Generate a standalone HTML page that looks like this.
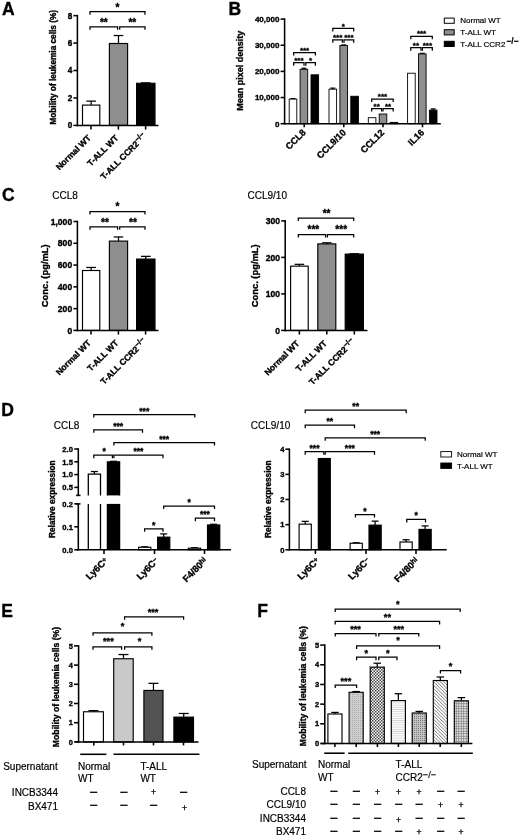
<!DOCTYPE html>
<html lang="en">
<head>
<meta charset="utf-8">
<title>Figure</title>
<style>
html,body{margin:0;padding:0;background:#fff;}
body{width:520px;height:836px;overflow:hidden;}
svg{display:block;filter:blur(0.3px);font-family:"Liberation Sans",sans-serif;fill:#000;}
text{stroke:#000;stroke-width:0.18px;}
text[font-weight="bold"]{stroke:#000;stroke-width:0.35px;}
</style>
</head>
<body>
<svg width="520" height="836" viewBox="0 0 520 836">
<defs>
<pattern id="pdot" width="2" height="2" patternUnits="userSpaceOnUse"><rect width="2" height="2" fill="#cfcfcf"/><rect width="1" height="1" fill="#a8a8a8"/></pattern>
<pattern id="pdot2" width="2" height="2" patternUnits="userSpaceOnUse"><rect width="2" height="2" fill="#c2c2c2"/><rect width="1" height="1" fill="#7c7c7c"/></pattern>
<pattern id="pcross" width="3" height="3" patternUnits="userSpaceOnUse"><rect width="3" height="3" fill="#fff"/><rect x="0" y="0" width="1.5" height="1.5" fill="#444"/><rect x="1.5" y="1.5" width="1.5" height="1.5" fill="#444"/></pattern>
<pattern id="phl" width="2.2" height="2.2" patternUnits="userSpaceOnUse"><rect width="2.2" height="2.2" fill="#fff"/><path d="M0 1.1H2.2" stroke="#d2d2d2" stroke-width="0.9"/></pattern>
<pattern id="pdiag" width="3.4" height="3.4" patternUnits="userSpaceOnUse"><rect width="3.4" height="3.4" fill="#fff"/><path d="M-1 -1L4.4 4.4M-1 2.4L1 4.4M2.4 -1L4.4 1" stroke="#555" stroke-width="0.8"/></pattern>
<pattern id="pgrid" width="2.5" height="2.5" patternUnits="userSpaceOnUse"><rect width="2.5" height="2.5" fill="#e4e4e4"/><path d="M0 1.25H2.5M1.25 0V2.5" stroke="#7a7a7a" stroke-width="0.7"/></pattern>
</defs>
<rect width="520" height="836" fill="#fff"/>
<text x="2.00" y="15.00" font-size="17.5" font-weight="bold" text-anchor="start">A</text>
<line x1="77.40" y1="14.87" x2="77.40" y2="126.18" stroke="#000" stroke-width="1.55"/>
<line x1="73.40" y1="125.40" x2="77.40" y2="125.40" stroke="#000" stroke-width="1.55"/>
<text x="72.20" y="128.35" font-size="8.2" font-weight="bold" text-anchor="end">0</text>
<line x1="73.40" y1="97.96" x2="77.40" y2="97.96" stroke="#000" stroke-width="1.55"/>
<text x="72.20" y="100.91" font-size="8.2" font-weight="bold" text-anchor="end">2</text>
<line x1="73.40" y1="70.52" x2="77.40" y2="70.52" stroke="#000" stroke-width="1.55"/>
<text x="72.20" y="73.47" font-size="8.2" font-weight="bold" text-anchor="end">4</text>
<line x1="73.40" y1="43.08" x2="77.40" y2="43.08" stroke="#000" stroke-width="1.55"/>
<text x="72.20" y="46.03" font-size="8.2" font-weight="bold" text-anchor="end">6</text>
<line x1="73.40" y1="15.64" x2="77.40" y2="15.64" stroke="#000" stroke-width="1.55"/>
<text x="72.20" y="18.59" font-size="8.2" font-weight="bold" text-anchor="end">8</text>
<text transform="translate(56.30,67.30) rotate(-90)" font-size="8.25" font-weight="bold" text-anchor="middle">Mobility of leukemia cells (%)</text>
<line x1="91.15" y1="101.12" x2="91.15" y2="105.09" stroke="#000" stroke-width="1.25"/>
<line x1="86.35" y1="101.12" x2="95.95" y2="101.12" stroke="#000" stroke-width="1.25"/>
<rect x="82.50" y="105.09" width="17.30" height="20.31" fill="#fff" stroke="#000" stroke-width="1.15"/>
<line x1="118.50" y1="35.53" x2="118.50" y2="43.49" stroke="#000" stroke-width="1.25"/>
<line x1="113.70" y1="35.53" x2="123.30" y2="35.53" stroke="#000" stroke-width="1.25"/>
<rect x="109.40" y="43.49" width="18.20" height="81.91" fill="#8e8e8e" stroke="#000" stroke-width="1.15"/>
<line x1="145.80" y1="82.87" x2="145.80" y2="83.28" stroke="#000" stroke-width="1.25"/>
<line x1="141.00" y1="82.87" x2="150.60" y2="82.87" stroke="#000" stroke-width="1.25"/>
<rect x="136.60" y="83.28" width="18.40" height="42.12" fill="#000" stroke="#000" stroke-width="1.15"/>
<line x1="76.70" y1="125.40" x2="158.50" y2="125.40" stroke="#000" stroke-width="1.55"/>
<line x1="91.00" y1="125.40" x2="91.00" y2="129.60" stroke="#000" stroke-width="1.55"/>
<line x1="118.40" y1="125.40" x2="118.40" y2="129.60" stroke="#000" stroke-width="1.55"/>
<line x1="145.60" y1="125.40" x2="145.60" y2="129.60" stroke="#000" stroke-width="1.55"/>
<path d="M90.00 14.70V11.70H145.00V14.70" fill="none" stroke="#000" stroke-width="1.25"/>
<text x="117.50" y="11.20" font-size="10" font-weight="bold" text-anchor="middle">*</text>
<path d="M90.00 29.80V26.80H117.60V29.80" fill="none" stroke="#000" stroke-width="1.25"/>
<text x="103.80" y="26.30" font-size="10" font-weight="bold" text-anchor="middle">**</text>
<path d="M119.70 29.80V26.80H145.00V29.80" fill="none" stroke="#000" stroke-width="1.25"/>
<text x="132.35" y="26.30" font-size="10" font-weight="bold" text-anchor="middle">**</text>
<text transform="translate(91.50,138.50) rotate(-45)" font-size="8.6" font-weight="bold" text-anchor="end">Normal WT</text>
<text transform="translate(119.00,138.50) rotate(-45)" font-size="8.6" font-weight="bold" text-anchor="end">T-ALL WT</text>
<text transform="translate(147.00,137.00) rotate(-45)" font-size="8.6" font-weight="bold" text-anchor="end">T-ALL CCR2<tspan font-size="7.5" dy="-3">−/−</tspan></text>
<text x="228.60" y="14.50" font-size="17.5" font-weight="bold" text-anchor="start">B</text>
<line x1="284.60" y1="18.33" x2="284.60" y2="124.48" stroke="#000" stroke-width="1.55"/>
<line x1="280.60" y1="123.70" x2="284.60" y2="123.70" stroke="#000" stroke-width="1.55"/>
<text x="279.40" y="126.58" font-size="8" font-weight="bold" text-anchor="end">0</text>
<line x1="280.60" y1="97.55" x2="284.60" y2="97.55" stroke="#000" stroke-width="1.55"/>
<text x="279.40" y="100.43" font-size="8" font-weight="bold" text-anchor="end">10,000</text>
<line x1="280.60" y1="71.40" x2="284.60" y2="71.40" stroke="#000" stroke-width="1.55"/>
<text x="279.40" y="74.28" font-size="8" font-weight="bold" text-anchor="end">20,000</text>
<line x1="280.60" y1="45.25" x2="284.60" y2="45.25" stroke="#000" stroke-width="1.55"/>
<text x="279.40" y="48.13" font-size="8" font-weight="bold" text-anchor="end">30,000</text>
<line x1="280.60" y1="19.10" x2="284.60" y2="19.10" stroke="#000" stroke-width="1.55"/>
<text x="279.40" y="21.98" font-size="8" font-weight="bold" text-anchor="end">40,000</text>
<text transform="translate(242.80,70.80) rotate(-90)" font-size="9" font-weight="bold" text-anchor="middle">Mean pixel density</text>
<line x1="293.00" y1="98.60" x2="293.00" y2="99.12" stroke="#000" stroke-width="1.25"/>
<line x1="290.50" y1="98.60" x2="295.50" y2="98.60" stroke="#000" stroke-width="1.25"/>
<rect x="289.20" y="99.12" width="7.60" height="24.58" fill="#fff" stroke="#000" stroke-width="0.9"/>
<line x1="303.90" y1="68.26" x2="303.90" y2="69.31" stroke="#000" stroke-width="1.25"/>
<line x1="301.40" y1="68.26" x2="306.40" y2="68.26" stroke="#000" stroke-width="1.25"/>
<rect x="300.10" y="69.31" width="7.60" height="54.39" fill="#8e8e8e" stroke="#000" stroke-width="0.9"/>
<rect x="311.00" y="74.80" width="7.60" height="48.90" fill="#000" stroke="#000" stroke-width="0.9"/>
<line x1="332.80" y1="88.14" x2="332.80" y2="89.18" stroke="#000" stroke-width="1.25"/>
<line x1="330.30" y1="88.14" x2="335.30" y2="88.14" stroke="#000" stroke-width="1.25"/>
<rect x="329.00" y="89.18" width="7.60" height="34.52" fill="#fff" stroke="#000" stroke-width="0.9"/>
<line x1="343.70" y1="44.99" x2="343.70" y2="45.51" stroke="#000" stroke-width="1.25"/>
<line x1="341.20" y1="44.99" x2="346.20" y2="44.99" stroke="#000" stroke-width="1.25"/>
<rect x="339.90" y="45.51" width="7.60" height="78.19" fill="#8e8e8e" stroke="#000" stroke-width="0.9"/>
<rect x="350.80" y="96.24" width="7.60" height="27.46" fill="#000" stroke="#000" stroke-width="0.9"/>
<rect x="368.30" y="117.69" width="7.60" height="6.01" fill="#fff" stroke="#000" stroke-width="0.9"/>
<rect x="379.20" y="114.02" width="7.60" height="9.68" fill="#8e8e8e" stroke="#000" stroke-width="0.9"/>
<rect x="390.10" y="122.39" width="7.60" height="1.31" fill="#000" stroke="#000" stroke-width="0.9"/>
<rect x="407.60" y="73.23" width="7.60" height="50.47" fill="#fff" stroke="#000" stroke-width="0.9"/>
<line x1="422.30" y1="53.36" x2="422.30" y2="53.88" stroke="#000" stroke-width="1.25"/>
<line x1="419.80" y1="53.36" x2="424.80" y2="53.36" stroke="#000" stroke-width="1.25"/>
<rect x="418.50" y="53.88" width="7.60" height="69.82" fill="#8e8e8e" stroke="#000" stroke-width="0.9"/>
<line x1="433.20" y1="108.93" x2="433.20" y2="110.10" stroke="#000" stroke-width="1.25"/>
<line x1="430.70" y1="108.93" x2="435.70" y2="108.93" stroke="#000" stroke-width="1.25"/>
<rect x="429.40" y="110.10" width="7.60" height="13.60" fill="#000" stroke="#000" stroke-width="0.9"/>
<line x1="284.10" y1="123.70" x2="440.80" y2="123.70" stroke="#000" stroke-width="1.55"/>
<line x1="304.20" y1="123.70" x2="304.20" y2="127.30" stroke="#000" stroke-width="1.55"/>
<line x1="343.80" y1="123.70" x2="343.80" y2="127.30" stroke="#000" stroke-width="1.55"/>
<line x1="383.00" y1="123.70" x2="383.00" y2="127.30" stroke="#000" stroke-width="1.55"/>
<line x1="422.50" y1="123.70" x2="422.50" y2="127.30" stroke="#000" stroke-width="1.55"/>
<path d="M293.70 55.60V52.60H315.40V55.60" fill="none" stroke="#000" stroke-width="1.25"/>
<text x="304.55" y="52.70" font-size="8" font-weight="bold" text-anchor="middle">***</text>
<path d="M293.70 65.70V62.70H304.00V65.70" fill="none" stroke="#000" stroke-width="1.25"/>
<text x="298.85" y="62.80" font-size="8" font-weight="bold" text-anchor="middle">***</text>
<path d="M305.80 65.70V62.70H315.40V65.70" fill="none" stroke="#000" stroke-width="1.25"/>
<text x="310.60" y="62.80" font-size="8" font-weight="bold" text-anchor="middle">*</text>
<path d="M332.80 31.40V28.40H353.70V31.40" fill="none" stroke="#000" stroke-width="1.25"/>
<text x="343.25" y="28.50" font-size="8" font-weight="bold" text-anchor="middle">*</text>
<path d="M332.80 42.80V39.80H342.40V42.80" fill="none" stroke="#000" stroke-width="1.25"/>
<text x="337.60" y="39.90" font-size="8" font-weight="bold" text-anchor="middle">***</text>
<path d="M344.00 42.80V39.80H353.70V42.80" fill="none" stroke="#000" stroke-width="1.25"/>
<text x="348.85" y="39.90" font-size="8" font-weight="bold" text-anchor="middle">***</text>
<path d="M371.70 102.00V99.00H393.20V102.00" fill="none" stroke="#000" stroke-width="1.25"/>
<text x="382.45" y="99.10" font-size="8" font-weight="bold" text-anchor="middle">***</text>
<path d="M371.70 111.50V108.50H381.60V111.50" fill="none" stroke="#000" stroke-width="1.25"/>
<text x="376.65" y="108.60" font-size="8" font-weight="bold" text-anchor="middle">**</text>
<path d="M383.00 111.50V108.50H393.20V111.50" fill="none" stroke="#000" stroke-width="1.25"/>
<text x="388.10" y="108.60" font-size="8" font-weight="bold" text-anchor="middle">**</text>
<path d="M410.80 39.30V36.30H432.30V39.30" fill="none" stroke="#000" stroke-width="1.25"/>
<text x="421.55" y="36.40" font-size="8" font-weight="bold" text-anchor="middle">***</text>
<path d="M410.80 50.70V47.70H421.00V50.70" fill="none" stroke="#000" stroke-width="1.25"/>
<text x="415.90" y="47.80" font-size="8" font-weight="bold" text-anchor="middle">**</text>
<path d="M422.40 50.70V47.70H432.30V50.70" fill="none" stroke="#000" stroke-width="1.25"/>
<text x="427.35" y="47.80" font-size="8" font-weight="bold" text-anchor="middle">***</text>
<text transform="translate(306.30,133.20) rotate(-45)" font-size="9.2" font-weight="bold" text-anchor="end">CCL8</text>
<text transform="translate(346.50,133.20) rotate(-45)" font-size="9.2" font-weight="bold" text-anchor="end">CCL9/10</text>
<text transform="translate(384.80,133.20) rotate(-45)" font-size="9.2" font-weight="bold" text-anchor="end">CCL12</text>
<text transform="translate(424.80,133.20) rotate(-45)" font-size="9.2" font-weight="bold" text-anchor="end">IL16</text>
<rect x="444.30" y="18.10" width="9.90" height="5.20" fill="#fff" stroke="#000" stroke-width="1.0"/>
<rect x="444.30" y="29.70" width="9.90" height="5.20" fill="#8e8e8e" stroke="#000" stroke-width="1.0"/>
<rect x="444.30" y="41.30" width="9.90" height="5.20" fill="#000" stroke="#000" stroke-width="1.0"/>
<text x="460.30" y="23.30" font-size="8.0" text-anchor="start">Normal WT</text>
<text x="460.30" y="34.90" font-size="8.0" text-anchor="start">T-ALL WT</text>
<text x="460.30" y="46.60" font-size="8.0" text-anchor="start">T-ALL CCR2<tspan font-size="8.6" font-weight="bold" dy="-2.6" dx="0.8">−/−</tspan></text>
<text x="2.00" y="201.00" font-size="17.5" font-weight="bold" text-anchor="start">C</text>
<text x="52.30" y="199.20" font-size="10" text-anchor="start">CCL8</text>
<line x1="77.40" y1="220.72" x2="77.40" y2="331.17" stroke="#000" stroke-width="1.55"/>
<line x1="73.40" y1="330.40" x2="77.40" y2="330.40" stroke="#000" stroke-width="1.55"/>
<text x="72.20" y="333.50" font-size="8.6" font-weight="bold" text-anchor="end">0</text>
<line x1="73.40" y1="308.62" x2="77.40" y2="308.62" stroke="#000" stroke-width="1.55"/>
<text x="72.20" y="311.72" font-size="8.6" font-weight="bold" text-anchor="end">200</text>
<line x1="73.40" y1="286.84" x2="77.40" y2="286.84" stroke="#000" stroke-width="1.55"/>
<text x="72.20" y="289.94" font-size="8.6" font-weight="bold" text-anchor="end">400</text>
<line x1="73.40" y1="265.06" x2="77.40" y2="265.06" stroke="#000" stroke-width="1.55"/>
<text x="72.20" y="268.16" font-size="8.6" font-weight="bold" text-anchor="end">600</text>
<line x1="73.40" y1="243.28" x2="77.40" y2="243.28" stroke="#000" stroke-width="1.55"/>
<text x="72.20" y="246.38" font-size="8.6" font-weight="bold" text-anchor="end">800</text>
<line x1="73.40" y1="221.50" x2="77.40" y2="221.50" stroke="#000" stroke-width="1.55"/>
<text x="72.20" y="224.60" font-size="8.6" font-weight="bold" text-anchor="end">1,000</text>
<text transform="translate(47.90,275.80) rotate(-90)" font-size="9.4" font-weight="bold" text-anchor="middle">Conc. (pg/mL)</text>
<line x1="91.15" y1="267.46" x2="91.15" y2="270.50" stroke="#000" stroke-width="1.25"/>
<line x1="86.35" y1="267.46" x2="95.95" y2="267.46" stroke="#000" stroke-width="1.25"/>
<rect x="82.50" y="270.50" width="17.30" height="59.89" fill="#fff" stroke="#000" stroke-width="1.15"/>
<line x1="118.50" y1="236.96" x2="118.50" y2="241.10" stroke="#000" stroke-width="1.25"/>
<line x1="113.70" y1="236.96" x2="123.30" y2="236.96" stroke="#000" stroke-width="1.25"/>
<rect x="109.40" y="241.10" width="18.20" height="89.30" fill="#8e8e8e" stroke="#000" stroke-width="1.15"/>
<line x1="145.80" y1="256.35" x2="145.80" y2="259.07" stroke="#000" stroke-width="1.25"/>
<line x1="141.00" y1="256.35" x2="150.60" y2="256.35" stroke="#000" stroke-width="1.25"/>
<rect x="136.60" y="259.07" width="18.40" height="71.33" fill="#000" stroke="#000" stroke-width="1.15"/>
<line x1="76.70" y1="330.40" x2="158.50" y2="330.40" stroke="#000" stroke-width="1.55"/>
<line x1="91.00" y1="330.40" x2="91.00" y2="334.60" stroke="#000" stroke-width="1.55"/>
<line x1="118.40" y1="330.40" x2="118.40" y2="334.60" stroke="#000" stroke-width="1.55"/>
<line x1="145.60" y1="330.40" x2="145.60" y2="334.60" stroke="#000" stroke-width="1.55"/>
<path d="M90.00 214.50V211.50H145.00V214.50" fill="none" stroke="#000" stroke-width="1.25"/>
<text x="117.50" y="210.20" font-size="10" font-weight="bold" text-anchor="middle">*</text>
<path d="M90.00 229.80V226.80H117.60V229.80" fill="none" stroke="#000" stroke-width="1.25"/>
<text x="105.00" y="225.50" font-size="10" font-weight="bold" text-anchor="middle">**</text>
<path d="M119.70 229.80V226.80H145.00V229.80" fill="none" stroke="#000" stroke-width="1.25"/>
<text x="133.00" y="225.50" font-size="10" font-weight="bold" text-anchor="middle">**</text>
<text transform="translate(91.50,343.60) rotate(-45)" font-size="8.6" font-weight="bold" text-anchor="end">Normal WT</text>
<text transform="translate(119.00,343.60) rotate(-45)" font-size="8.6" font-weight="bold" text-anchor="end">T-ALL WT</text>
<text transform="translate(147.00,342.10) rotate(-45)" font-size="8.6" font-weight="bold" text-anchor="end">T-ALL CCR2<tspan font-size="7.5" dy="-3">−/−</tspan></text>
<text x="247.50" y="199.20" font-size="10" text-anchor="start">CCL9/10</text>
<line x1="285.20" y1="220.12" x2="285.20" y2="331.17" stroke="#000" stroke-width="1.55"/>
<line x1="281.20" y1="330.40" x2="285.20" y2="330.40" stroke="#000" stroke-width="1.55"/>
<text x="280.00" y="333.50" font-size="8.6" font-weight="bold" text-anchor="end">0</text>
<line x1="281.20" y1="293.90" x2="285.20" y2="293.90" stroke="#000" stroke-width="1.55"/>
<text x="280.00" y="297.00" font-size="8.6" font-weight="bold" text-anchor="end">100</text>
<line x1="281.20" y1="257.40" x2="285.20" y2="257.40" stroke="#000" stroke-width="1.55"/>
<text x="280.00" y="260.50" font-size="8.6" font-weight="bold" text-anchor="end">200</text>
<line x1="281.20" y1="220.90" x2="285.20" y2="220.90" stroke="#000" stroke-width="1.55"/>
<text x="280.00" y="224.00" font-size="8.6" font-weight="bold" text-anchor="end">300</text>
<text transform="translate(258.00,275.80) rotate(-90)" font-size="9.4" font-weight="bold" text-anchor="middle">Conc. (pg/mL)</text>
<line x1="299.40" y1="264.33" x2="299.40" y2="266.16" stroke="#000" stroke-width="1.25"/>
<line x1="294.60" y1="264.33" x2="304.20" y2="264.33" stroke="#000" stroke-width="1.25"/>
<rect x="290.60" y="266.16" width="17.60" height="64.24" fill="#fff" stroke="#000" stroke-width="1.15"/>
<line x1="326.80" y1="242.80" x2="326.80" y2="243.89" stroke="#000" stroke-width="1.25"/>
<line x1="322.00" y1="242.80" x2="331.60" y2="242.80" stroke="#000" stroke-width="1.25"/>
<rect x="317.80" y="243.89" width="18.00" height="86.50" fill="#8e8e8e" stroke="#000" stroke-width="1.15"/>
<line x1="354.30" y1="253.75" x2="354.30" y2="254.11" stroke="#000" stroke-width="1.25"/>
<line x1="349.50" y1="253.75" x2="359.10" y2="253.75" stroke="#000" stroke-width="1.25"/>
<rect x="345.20" y="254.11" width="18.20" height="76.28" fill="#000" stroke="#000" stroke-width="1.15"/>
<line x1="284.50" y1="330.40" x2="367.50" y2="330.40" stroke="#000" stroke-width="1.55"/>
<line x1="299.40" y1="330.40" x2="299.40" y2="334.60" stroke="#000" stroke-width="1.55"/>
<line x1="326.80" y1="330.40" x2="326.80" y2="334.60" stroke="#000" stroke-width="1.55"/>
<line x1="354.30" y1="330.40" x2="354.30" y2="334.60" stroke="#000" stroke-width="1.55"/>
<path d="M298.30 221.00V218.00H353.70V221.00" fill="none" stroke="#000" stroke-width="1.25"/>
<text x="326.60" y="216.70" font-size="10" font-weight="bold" text-anchor="middle">**</text>
<path d="M298.30 237.50V234.50H325.60V237.50" fill="none" stroke="#000" stroke-width="1.25"/>
<text x="313.40" y="233.20" font-size="10" font-weight="bold" text-anchor="middle">***</text>
<path d="M327.40 237.50V234.50H353.70V237.50" fill="none" stroke="#000" stroke-width="1.25"/>
<text x="341.20" y="233.20" font-size="10" font-weight="bold" text-anchor="middle">***</text>
<text transform="translate(300.00,344.00) rotate(-45)" font-size="8.6" font-weight="bold" text-anchor="end">Normal WT</text>
<text transform="translate(327.50,344.00) rotate(-45)" font-size="8.6" font-weight="bold" text-anchor="end">T-ALL WT</text>
<text transform="translate(355.50,342.50) rotate(-45)" font-size="8.6" font-weight="bold" text-anchor="end">T-ALL CCR2<tspan font-size="7.5" dy="-3">−/−</tspan></text>
<text x="1.30" y="415.60" font-size="17.5" font-weight="bold" text-anchor="start">D</text>
<text x="53.80" y="429.30" font-size="10" text-anchor="start">CCL8</text>
<line x1="78.30" y1="448.23" x2="78.30" y2="495.40" stroke="#000" stroke-width="1.55"/>
<line x1="74.30" y1="487.40" x2="78.30" y2="487.40" stroke="#000" stroke-width="1.55"/>
<text x="72.90" y="490.14" font-size="7.6" font-weight="bold" text-anchor="end">0.5</text>
<line x1="74.30" y1="474.60" x2="78.30" y2="474.60" stroke="#000" stroke-width="1.55"/>
<text x="72.90" y="477.34" font-size="7.6" font-weight="bold" text-anchor="end">1.0</text>
<line x1="74.30" y1="461.80" x2="78.30" y2="461.80" stroke="#000" stroke-width="1.55"/>
<text x="72.90" y="464.54" font-size="7.6" font-weight="bold" text-anchor="end">1.5</text>
<line x1="74.30" y1="449.00" x2="78.30" y2="449.00" stroke="#000" stroke-width="1.55"/>
<text x="72.90" y="451.74" font-size="7.6" font-weight="bold" text-anchor="end">2.0</text>
<line x1="76.10" y1="495.40" x2="80.50" y2="495.40" stroke="#000" stroke-width="1.55"/>
<line x1="76.10" y1="503.90" x2="80.50" y2="503.90" stroke="#000" stroke-width="1.55"/>
<line x1="78.30" y1="503.90" x2="78.30" y2="550.57" stroke="#000" stroke-width="1.55"/>
<line x1="74.30" y1="549.80" x2="78.30" y2="549.80" stroke="#000" stroke-width="1.55"/>
<text x="72.90" y="552.54" font-size="7.6" font-weight="bold" text-anchor="end">0.0</text>
<line x1="74.30" y1="526.80" x2="78.30" y2="526.80" stroke="#000" stroke-width="1.55"/>
<text x="72.90" y="529.54" font-size="7.6" font-weight="bold" text-anchor="end">0.1</text>
<line x1="74.30" y1="503.80" x2="78.30" y2="503.80" stroke="#000" stroke-width="1.55"/>
<text x="72.90" y="506.54" font-size="7.6" font-weight="bold" text-anchor="end">0.2</text>
<text transform="translate(55.00,499.20) rotate(-90)" font-size="8.25" font-weight="bold" text-anchor="middle">Relative expression</text>
<line x1="94.40" y1="471.53" x2="94.40" y2="474.09" stroke="#000" stroke-width="1.25"/>
<line x1="90.90" y1="471.53" x2="97.90" y2="471.53" stroke="#000" stroke-width="1.25"/>
<rect x="88.30" y="474.09" width="12.20" height="21.31" fill="#fff"/>
<rect x="88.30" y="503.90" width="12.20" height="45.90" fill="#fff"/>
<path d="M88.30 495.40V474.09H100.50V495.40M88.30 503.90V549.8M100.50 503.90V549.8" fill="none" stroke="#000" stroke-width="1.3"/>
<line x1="113.50" y1="461.29" x2="113.50" y2="461.80" stroke="#000" stroke-width="1.25"/>
<line x1="110.00" y1="461.29" x2="117.00" y2="461.29" stroke="#000" stroke-width="1.25"/>
<rect x="107.40" y="461.80" width="12.20" height="33.60" fill="#000"/>
<rect x="107.40" y="503.90" width="12.20" height="45.90" fill="#000"/>
<path d="M107.40 495.40V461.80H119.60V495.40M107.40 503.90V549.8M119.60 503.90V549.8" fill="none" stroke="#000" stroke-width="1.3"/>
<line x1="144.70" y1="546.81" x2="144.70" y2="547.27" stroke="#000" stroke-width="1.25"/>
<line x1="141.20" y1="546.81" x2="148.20" y2="546.81" stroke="#000" stroke-width="1.25"/>
<rect x="138.60" y="547.27" width="12.20" height="2.53" fill="#fff" stroke="#000" stroke-width="1.15"/>
<line x1="163.70" y1="533.93" x2="163.70" y2="537.15" stroke="#000" stroke-width="1.25"/>
<line x1="160.20" y1="533.93" x2="167.20" y2="533.93" stroke="#000" stroke-width="1.25"/>
<rect x="157.60" y="537.15" width="12.20" height="12.65" fill="#000" stroke="#000" stroke-width="1.15"/>
<line x1="194.55" y1="547.73" x2="194.55" y2="548.19" stroke="#000" stroke-width="1.25"/>
<line x1="191.05" y1="547.73" x2="198.05" y2="547.73" stroke="#000" stroke-width="1.25"/>
<rect x="188.40" y="548.19" width="12.30" height="1.61" fill="#fff" stroke="#000" stroke-width="1.15"/>
<line x1="213.65" y1="524.27" x2="213.65" y2="524.96" stroke="#000" stroke-width="1.25"/>
<line x1="210.15" y1="524.27" x2="217.15" y2="524.27" stroke="#000" stroke-width="1.25"/>
<rect x="207.50" y="524.96" width="12.30" height="24.84" fill="#000" stroke="#000" stroke-width="1.15"/>
<line x1="77.60" y1="549.80" x2="231.00" y2="549.80" stroke="#000" stroke-width="1.55"/>
<line x1="104.00" y1="549.80" x2="104.00" y2="554.00" stroke="#000" stroke-width="1.55"/>
<line x1="154.50" y1="549.80" x2="154.50" y2="554.00" stroke="#000" stroke-width="1.55"/>
<line x1="204.50" y1="549.80" x2="204.50" y2="554.00" stroke="#000" stroke-width="1.55"/>
<path d="M93.80 417.50V414.50H194.80V417.50" fill="none" stroke="#000" stroke-width="1.25"/>
<text x="144.30" y="413.50" font-size="8.6" font-weight="bold" text-anchor="middle">***</text>
<path d="M93.80 432.80V429.80H142.50V432.80" fill="none" stroke="#000" stroke-width="1.25"/>
<text x="118.15" y="428.80" font-size="8.6" font-weight="bold" text-anchor="middle">***</text>
<path d="M113.90 445.60V442.60H214.50V445.60" fill="none" stroke="#000" stroke-width="1.25"/>
<text x="164.20" y="441.60" font-size="8.6" font-weight="bold" text-anchor="middle">***</text>
<path d="M93.80 458.20V455.20H112.40V458.20" fill="none" stroke="#000" stroke-width="1.25"/>
<text x="104.20" y="454.20" font-size="8.6" font-weight="bold" text-anchor="middle">*</text>
<path d="M113.90 458.20V455.20H163.00V458.20" fill="none" stroke="#000" stroke-width="1.25"/>
<text x="138.45" y="454.20" font-size="8.6" font-weight="bold" text-anchor="middle">***</text>
<path d="M163.70 509.00V506.00H214.50V509.00" fill="none" stroke="#000" stroke-width="1.25"/>
<text x="189.10" y="505.00" font-size="8.6" font-weight="bold" text-anchor="middle">*</text>
<path d="M195.40 521.20V518.20H214.50V521.20" fill="none" stroke="#000" stroke-width="1.25"/>
<text x="204.95" y="517.20" font-size="8.6" font-weight="bold" text-anchor="middle">***</text>
<path d="M144.60 531.80V528.80H163.00V531.80" fill="none" stroke="#000" stroke-width="1.25"/>
<text x="153.80" y="527.80" font-size="8.6" font-weight="bold" text-anchor="middle">*</text>
<text transform="translate(108.60,561.30) rotate(-45)" font-size="9.4" font-weight="bold" text-anchor="end">Ly6C<tspan font-size="7" dy="-2.2">+</tspan></text>
<text transform="translate(159.30,561.30) rotate(-45)" font-size="9.4" font-weight="bold" text-anchor="end">Ly6C<tspan font-size="7" dy="-2.2">−</tspan></text>
<text transform="translate(207.80,561.30) rotate(-45)" font-size="9.4" font-weight="bold" text-anchor="end">F4/80<tspan font-size="7" dy="-2.2">hi</tspan></text>
<text x="250.80" y="428.80" font-size="10" text-anchor="start">CCL9/10</text>
<line x1="289.40" y1="448.42" x2="289.40" y2="550.57" stroke="#000" stroke-width="1.55"/>
<line x1="285.40" y1="549.80" x2="289.40" y2="549.80" stroke="#000" stroke-width="1.55"/>
<text x="284.40" y="552.54" font-size="7.6" font-weight="bold" text-anchor="end">0</text>
<line x1="285.40" y1="524.65" x2="289.40" y2="524.65" stroke="#000" stroke-width="1.55"/>
<text x="284.40" y="527.39" font-size="7.6" font-weight="bold" text-anchor="end">1</text>
<line x1="285.40" y1="499.50" x2="289.40" y2="499.50" stroke="#000" stroke-width="1.55"/>
<text x="284.40" y="502.24" font-size="7.6" font-weight="bold" text-anchor="end">2</text>
<line x1="285.40" y1="474.35" x2="289.40" y2="474.35" stroke="#000" stroke-width="1.55"/>
<text x="284.40" y="477.09" font-size="7.6" font-weight="bold" text-anchor="end">3</text>
<line x1="285.40" y1="449.20" x2="289.40" y2="449.20" stroke="#000" stroke-width="1.55"/>
<text x="284.40" y="451.94" font-size="7.6" font-weight="bold" text-anchor="end">4</text>
<text transform="translate(271.20,499.20) rotate(-90)" font-size="8.25" font-weight="bold" text-anchor="middle">Relative expression</text>
<line x1="305.20" y1="521.38" x2="305.20" y2="524.15" stroke="#000" stroke-width="1.25"/>
<line x1="301.70" y1="521.38" x2="308.70" y2="521.38" stroke="#000" stroke-width="1.25"/>
<rect x="299.10" y="524.15" width="12.20" height="25.65" fill="#fff" stroke="#000" stroke-width="1.15"/>
<rect x="318.30" y="458.51" width="12.00" height="91.29" fill="#000" stroke="#000" stroke-width="1.15"/>
<line x1="356.20" y1="542.76" x2="356.20" y2="543.26" stroke="#000" stroke-width="1.25"/>
<line x1="352.70" y1="542.76" x2="359.70" y2="542.76" stroke="#000" stroke-width="1.25"/>
<rect x="350.10" y="543.26" width="12.20" height="6.54" fill="#fff" stroke="#000" stroke-width="1.15"/>
<line x1="375.10" y1="521.13" x2="375.10" y2="525.15" stroke="#000" stroke-width="1.25"/>
<line x1="371.60" y1="521.13" x2="378.60" y2="521.13" stroke="#000" stroke-width="1.25"/>
<rect x="369.00" y="525.15" width="12.20" height="24.65" fill="#000" stroke="#000" stroke-width="1.15"/>
<line x1="406.10" y1="539.74" x2="406.10" y2="542.00" stroke="#000" stroke-width="1.25"/>
<line x1="402.60" y1="539.74" x2="409.60" y2="539.74" stroke="#000" stroke-width="1.25"/>
<rect x="400.00" y="542.00" width="12.20" height="7.80" fill="#fff" stroke="#000" stroke-width="1.15"/>
<line x1="425.10" y1="525.91" x2="425.10" y2="529.43" stroke="#000" stroke-width="1.25"/>
<line x1="421.60" y1="525.91" x2="428.60" y2="525.91" stroke="#000" stroke-width="1.25"/>
<rect x="419.00" y="529.43" width="12.20" height="20.37" fill="#000" stroke="#000" stroke-width="1.15"/>
<line x1="288.70" y1="549.80" x2="446.70" y2="549.80" stroke="#000" stroke-width="1.55"/>
<line x1="315.40" y1="549.80" x2="315.40" y2="554.00" stroke="#000" stroke-width="1.55"/>
<line x1="366.00" y1="549.80" x2="366.00" y2="554.00" stroke="#000" stroke-width="1.55"/>
<line x1="416.00" y1="549.80" x2="416.00" y2="554.00" stroke="#000" stroke-width="1.55"/>
<path d="M305.20 413.20V410.20H406.20V413.20" fill="none" stroke="#000" stroke-width="1.25"/>
<text x="355.70" y="409.20" font-size="8.6" font-weight="bold" text-anchor="middle">**</text>
<path d="M305.20 428.20V425.20H354.50V428.20" fill="none" stroke="#000" stroke-width="1.25"/>
<text x="329.85" y="424.20" font-size="8.6" font-weight="bold" text-anchor="middle">**</text>
<path d="M325.20 440.80V437.80H425.20V440.80" fill="none" stroke="#000" stroke-width="1.25"/>
<text x="375.20" y="436.80" font-size="8.6" font-weight="bold" text-anchor="middle">***</text>
<path d="M305.20 454.70V451.70H323.80V454.70" fill="none" stroke="#000" stroke-width="1.25"/>
<text x="314.50" y="450.70" font-size="8.6" font-weight="bold" text-anchor="middle">***</text>
<path d="M325.20 454.70V451.70H374.50V454.70" fill="none" stroke="#000" stroke-width="1.25"/>
<text x="349.85" y="450.70" font-size="8.6" font-weight="bold" text-anchor="middle">***</text>
<path d="M355.40 517.50V514.50H374.50V517.50" fill="none" stroke="#000" stroke-width="1.25"/>
<text x="364.95" y="513.50" font-size="8.6" font-weight="bold" text-anchor="middle">*</text>
<path d="M406.80 522.40V519.40H425.50V522.40" fill="none" stroke="#000" stroke-width="1.25"/>
<text x="416.15" y="518.40" font-size="8.6" font-weight="bold" text-anchor="middle">*</text>
<text transform="translate(320.10,561.30) rotate(-45)" font-size="9.4" font-weight="bold" text-anchor="end">Ly6C<tspan font-size="7" dy="-2.2">+</tspan></text>
<text transform="translate(370.80,561.30) rotate(-45)" font-size="9.4" font-weight="bold" text-anchor="end">Ly6C<tspan font-size="7" dy="-2.2">−</tspan></text>
<text transform="translate(419.30,561.30) rotate(-45)" font-size="9.4" font-weight="bold" text-anchor="end">F4/80<tspan font-size="7" dy="-2.2">hi</tspan></text>
<rect x="440.80" y="451.60" width="10.80" height="5.40" fill="#fff" stroke="#000" stroke-width="0.9"/>
<rect x="440.80" y="463.00" width="10.80" height="5.40" fill="#000" stroke="#000" stroke-width="0.9"/>
<text x="457.00" y="457.40" font-size="8" text-anchor="start">Normal WT</text>
<text x="457.00" y="468.80" font-size="8" text-anchor="start">T-ALL WT</text>
<text x="1.30" y="617.40" font-size="17.5" font-weight="bold" text-anchor="start">E</text>
<line x1="78.60" y1="645.12" x2="78.60" y2="742.67" stroke="#000" stroke-width="1.55"/>
<line x1="74.00" y1="741.90" x2="78.60" y2="741.90" stroke="#000" stroke-width="1.55"/>
<text x="72.80" y="744.56" font-size="7.4" font-weight="bold" text-anchor="end">0</text>
<line x1="74.00" y1="722.70" x2="78.60" y2="722.70" stroke="#000" stroke-width="1.55"/>
<text x="72.80" y="725.36" font-size="7.4" font-weight="bold" text-anchor="end">1</text>
<line x1="74.00" y1="703.50" x2="78.60" y2="703.50" stroke="#000" stroke-width="1.55"/>
<text x="72.80" y="706.16" font-size="7.4" font-weight="bold" text-anchor="end">2</text>
<line x1="74.00" y1="684.30" x2="78.60" y2="684.30" stroke="#000" stroke-width="1.55"/>
<text x="72.80" y="686.96" font-size="7.4" font-weight="bold" text-anchor="end">3</text>
<line x1="74.00" y1="665.10" x2="78.60" y2="665.10" stroke="#000" stroke-width="1.55"/>
<text x="72.80" y="667.76" font-size="7.4" font-weight="bold" text-anchor="end">4</text>
<line x1="74.00" y1="645.90" x2="78.60" y2="645.90" stroke="#000" stroke-width="1.55"/>
<text x="72.80" y="648.56" font-size="7.4" font-weight="bold" text-anchor="end">5</text>
<text transform="translate(59.30,687.00) rotate(-90)" font-size="8.67" font-weight="bold" text-anchor="middle">Mobility of leukemia cells (%)</text>
<line x1="93.45" y1="710.60" x2="93.45" y2="711.76" stroke="#000" stroke-width="1.25"/>
<line x1="88.45" y1="710.60" x2="98.45" y2="710.60" stroke="#000" stroke-width="1.25"/>
<rect x="83.50" y="711.76" width="19.90" height="30.14" fill="#fff" stroke="#000" stroke-width="1.15"/>
<line x1="123.45" y1="654.54" x2="123.45" y2="658.76" stroke="#000" stroke-width="1.25"/>
<line x1="118.45" y1="654.54" x2="128.45" y2="654.54" stroke="#000" stroke-width="1.25"/>
<rect x="113.70" y="658.76" width="19.50" height="83.14" fill="#c9c9c9" stroke="#000" stroke-width="1.15"/>
<line x1="153.45" y1="683.34" x2="153.45" y2="690.44" stroke="#000" stroke-width="1.25"/>
<line x1="148.45" y1="683.34" x2="158.45" y2="683.34" stroke="#000" stroke-width="1.25"/>
<rect x="143.90" y="690.44" width="19.10" height="51.46" fill="#525252" stroke="#000" stroke-width="1.15"/>
<line x1="183.70" y1="713.48" x2="183.70" y2="717.13" stroke="#000" stroke-width="1.25"/>
<line x1="178.70" y1="713.48" x2="188.70" y2="713.48" stroke="#000" stroke-width="1.25"/>
<rect x="173.90" y="717.13" width="19.60" height="24.77" fill="#000" stroke="#000" stroke-width="1.15"/>
<line x1="75.50" y1="741.90" x2="198.50" y2="741.90" stroke="#000" stroke-width="1.55"/>
<line x1="93.80" y1="741.90" x2="93.80" y2="745.40" stroke="#000" stroke-width="1.55"/>
<line x1="123.50" y1="741.90" x2="123.50" y2="745.40" stroke="#000" stroke-width="1.55"/>
<line x1="153.50" y1="741.90" x2="153.50" y2="745.40" stroke="#000" stroke-width="1.55"/>
<line x1="183.50" y1="741.90" x2="183.50" y2="745.40" stroke="#000" stroke-width="1.55"/>
<path d="M124.60 619.80V616.80H183.60V619.80" fill="none" stroke="#000" stroke-width="1.25"/>
<text x="153.00" y="614.50" font-size="9.2" font-weight="bold" text-anchor="middle">***</text>
<path d="M93.00 635.80V632.80H151.90V635.80" fill="none" stroke="#000" stroke-width="1.25"/>
<text x="122.45" y="629.20" font-size="9.2" font-weight="bold" text-anchor="middle">*</text>
<path d="M93.00 649.80V646.80H121.60V649.80" fill="none" stroke="#000" stroke-width="1.25"/>
<text x="108.40" y="644.10" font-size="9.2" font-weight="bold" text-anchor="middle">***</text>
<path d="M124.60 649.80V646.80H151.90V649.80" fill="none" stroke="#000" stroke-width="1.25"/>
<text x="139.60" y="643.90" font-size="9.2" font-weight="bold" text-anchor="middle">*</text>
<line x1="80.20" y1="754.30" x2="106.40" y2="754.30" stroke="#000" stroke-width="1.55"/>
<line x1="113.50" y1="754.30" x2="199.40" y2="754.30" stroke="#000" stroke-width="1.55"/>
<text x="3.20" y="769.80" font-size="10" text-anchor="start">Supernatant</text>
<text x="78.00" y="769.80" font-size="10" text-anchor="start">Normal</text>
<text x="78.00" y="781.60" font-size="10" text-anchor="start">WT</text>
<text x="140.40" y="769.80" font-size="10" text-anchor="start">T-ALL</text>
<text x="140.40" y="781.60" font-size="10" text-anchor="start">WT</text>
<text x="58.00" y="796.20" font-size="10" text-anchor="end">INCB3344</text>
<text x="58.00" y="810.20" font-size="10" text-anchor="end">BX471</text>
<text x="93.40" y="797.00" font-size="14.5" text-anchor="middle" style="stroke-width:0.2px">−</text>
<text x="123.80" y="797.00" font-size="14.5" text-anchor="middle" style="stroke-width:0.2px">−</text>
<text x="153.40" y="795.20" font-size="8.6" text-anchor="middle" style="stroke-width:0.3px">+</text>
<text x="183.40" y="797.00" font-size="14.5" text-anchor="middle" style="stroke-width:0.2px">−</text>
<text x="93.40" y="810.40" font-size="14.5" text-anchor="middle" style="stroke-width:0.2px">−</text>
<text x="123.80" y="810.40" font-size="14.5" text-anchor="middle" style="stroke-width:0.2px">−</text>
<text x="153.40" y="810.40" font-size="14.5" text-anchor="middle" style="stroke-width:0.2px">−</text>
<text x="184.40" y="811.40" font-size="8.6" text-anchor="middle" style="stroke-width:0.3px">+</text>
<text x="257.30" y="617.40" font-size="17.5" font-weight="bold" text-anchor="start">F</text>
<line x1="324.80" y1="644.33" x2="324.80" y2="744.27" stroke="#000" stroke-width="1.55"/>
<line x1="320.20" y1="743.50" x2="324.80" y2="743.50" stroke="#000" stroke-width="1.55"/>
<text x="319.00" y="746.16" font-size="7.4" font-weight="bold" text-anchor="end">0</text>
<line x1="320.20" y1="723.82" x2="324.80" y2="723.82" stroke="#000" stroke-width="1.55"/>
<text x="319.00" y="726.48" font-size="7.4" font-weight="bold" text-anchor="end">1</text>
<line x1="320.20" y1="704.14" x2="324.80" y2="704.14" stroke="#000" stroke-width="1.55"/>
<text x="319.00" y="706.80" font-size="7.4" font-weight="bold" text-anchor="end">2</text>
<line x1="320.20" y1="684.46" x2="324.80" y2="684.46" stroke="#000" stroke-width="1.55"/>
<text x="319.00" y="687.12" font-size="7.4" font-weight="bold" text-anchor="end">3</text>
<line x1="320.20" y1="664.78" x2="324.80" y2="664.78" stroke="#000" stroke-width="1.55"/>
<text x="319.00" y="667.44" font-size="7.4" font-weight="bold" text-anchor="end">4</text>
<line x1="320.20" y1="645.10" x2="324.80" y2="645.10" stroke="#000" stroke-width="1.55"/>
<text x="319.00" y="647.76" font-size="7.4" font-weight="bold" text-anchor="end">5</text>
<text transform="translate(306.00,686.20) rotate(-90)" font-size="8.67" font-weight="bold" text-anchor="middle">Mobility of leukemia cells (%)</text>
<line x1="334.95" y1="712.41" x2="334.95" y2="713.98" stroke="#000" stroke-width="1.25"/>
<line x1="331.20" y1="712.41" x2="338.70" y2="712.41" stroke="#000" stroke-width="1.25"/>
<rect x="327.90" y="713.98" width="14.10" height="29.52" fill="#fff"/>
<rect x="327.90" y="713.98" width="14.10" height="29.52" fill="#fff" stroke="#000" stroke-width="1.15"/>
<line x1="356.15" y1="691.54" x2="356.15" y2="692.33" stroke="#000" stroke-width="1.25"/>
<line x1="352.40" y1="691.54" x2="359.90" y2="691.54" stroke="#000" stroke-width="1.25"/>
<rect x="349.10" y="692.33" width="14.10" height="51.17" fill="#fff"/>
<rect x="349.10" y="692.33" width="14.10" height="51.17" fill="url(#pdot)" stroke="#000" stroke-width="1.15"/>
<line x1="377.25" y1="663.21" x2="377.25" y2="667.14" stroke="#000" stroke-width="1.25"/>
<line x1="373.50" y1="663.21" x2="381.00" y2="663.21" stroke="#000" stroke-width="1.25"/>
<rect x="370.20" y="667.14" width="14.10" height="76.36" fill="#fff"/>
<rect x="370.20" y="667.14" width="14.10" height="76.36" fill="url(#pcross)" stroke="#000" stroke-width="1.15"/>
<line x1="398.35" y1="693.71" x2="398.35" y2="700.60" stroke="#000" stroke-width="1.25"/>
<line x1="394.60" y1="693.71" x2="402.10" y2="693.71" stroke="#000" stroke-width="1.25"/>
<rect x="391.30" y="700.60" width="14.10" height="42.90" fill="#fff"/>
<rect x="391.30" y="700.60" width="14.10" height="42.90" fill="url(#phl)" stroke="#000" stroke-width="1.15"/>
<line x1="419.25" y1="711.42" x2="419.25" y2="713.00" stroke="#000" stroke-width="1.25"/>
<line x1="415.50" y1="711.42" x2="423.00" y2="711.42" stroke="#000" stroke-width="1.25"/>
<rect x="412.20" y="713.00" width="14.10" height="30.50" fill="#fff"/>
<rect x="412.20" y="713.00" width="14.10" height="30.50" fill="url(#pdot2)" stroke="#000" stroke-width="1.15"/>
<line x1="440.35" y1="676.98" x2="440.35" y2="680.52" stroke="#000" stroke-width="1.25"/>
<line x1="436.60" y1="676.98" x2="444.10" y2="676.98" stroke="#000" stroke-width="1.25"/>
<rect x="433.30" y="680.52" width="14.10" height="62.98" fill="#fff"/>
<rect x="433.30" y="680.52" width="14.10" height="62.98" fill="url(#pdiag)" stroke="#000" stroke-width="1.15"/>
<line x1="461.35" y1="697.65" x2="461.35" y2="700.79" stroke="#000" stroke-width="1.25"/>
<line x1="457.60" y1="697.65" x2="465.10" y2="697.65" stroke="#000" stroke-width="1.25"/>
<rect x="454.30" y="700.79" width="14.10" height="42.71" fill="#fff"/>
<rect x="454.30" y="700.79" width="14.10" height="42.71" fill="url(#pgrid)" stroke="#000" stroke-width="1.15"/>
<line x1="321.00" y1="743.50" x2="472.40" y2="743.50" stroke="#000" stroke-width="1.55"/>
<line x1="334.90" y1="743.50" x2="334.90" y2="747.00" stroke="#000" stroke-width="1.55"/>
<line x1="356.20" y1="743.50" x2="356.20" y2="747.00" stroke="#000" stroke-width="1.55"/>
<line x1="377.40" y1="743.50" x2="377.40" y2="747.00" stroke="#000" stroke-width="1.55"/>
<line x1="398.40" y1="743.50" x2="398.40" y2="747.00" stroke="#000" stroke-width="1.55"/>
<line x1="419.20" y1="743.50" x2="419.20" y2="747.00" stroke="#000" stroke-width="1.55"/>
<line x1="440.20" y1="743.50" x2="440.20" y2="747.00" stroke="#000" stroke-width="1.55"/>
<line x1="461.30" y1="743.50" x2="461.30" y2="747.00" stroke="#000" stroke-width="1.55"/>
<path d="M335.20 612.00V609.00H460.20V612.00" fill="none" stroke="#000" stroke-width="1.25"/>
<text x="397.70" y="607.40" font-size="9.2" font-weight="bold" text-anchor="middle">*</text>
<path d="M335.20 624.40V621.40H439.60V624.40" fill="none" stroke="#000" stroke-width="1.25"/>
<text x="387.40" y="619.80" font-size="9.2" font-weight="bold" text-anchor="middle">**</text>
<path d="M335.20 636.60V633.60H376.00V636.60" fill="none" stroke="#000" stroke-width="1.25"/>
<text x="355.60" y="632.00" font-size="9.2" font-weight="bold" text-anchor="middle">***</text>
<path d="M378.80 636.60V633.60H418.80V636.60" fill="none" stroke="#000" stroke-width="1.25"/>
<text x="398.80" y="632.00" font-size="9.2" font-weight="bold" text-anchor="middle">***</text>
<path d="M356.60 648.90V645.90H439.60V648.90" fill="none" stroke="#000" stroke-width="1.25"/>
<text x="398.10" y="643.30" font-size="9.2" font-weight="bold" text-anchor="middle">*</text>
<path d="M356.60 660.20V657.20H376.00V660.20" fill="none" stroke="#000" stroke-width="1.25"/>
<text x="366.30" y="655.60" font-size="9.2" font-weight="bold" text-anchor="middle">*</text>
<path d="M378.80 660.20V657.20H397.00V660.20" fill="none" stroke="#000" stroke-width="1.25"/>
<text x="387.90" y="655.60" font-size="9.2" font-weight="bold" text-anchor="middle">*</text>
<path d="M335.20 688.10V685.10H356.60V688.10" fill="none" stroke="#000" stroke-width="1.25"/>
<text x="345.90" y="683.50" font-size="9.2" font-weight="bold" text-anchor="middle">***</text>
<path d="M440.40 673.50V670.50H460.60V673.50" fill="none" stroke="#000" stroke-width="1.25"/>
<text x="450.50" y="668.90" font-size="9.2" font-weight="bold" text-anchor="middle">*</text>
<line x1="324.20" y1="753.20" x2="344.60" y2="753.20" stroke="#000" stroke-width="1.55"/>
<line x1="348.20" y1="753.20" x2="472.80" y2="753.20" stroke="#000" stroke-width="1.55"/>
<text x="252.00" y="768.00" font-size="10" text-anchor="start">Supernatant</text>
<text x="318.00" y="768.00" font-size="10" text-anchor="start">Normal</text>
<text x="318.00" y="780.80" font-size="10" text-anchor="start">WT</text>
<text x="395.60" y="768.00" font-size="10" text-anchor="start">T-ALL</text>
<text x="395.60" y="781.00" font-size="10" text-anchor="start">CCR2<tspan font-size="9.2" dy="-3.4">−/−</tspan></text>
<text x="306.00" y="795.00" font-size="10" text-anchor="end">CCL8</text>
<text x="306.00" y="808.20" font-size="10" text-anchor="end">CCL9/10</text>
<text x="306.00" y="821.80" font-size="10" text-anchor="end">INCB3344</text>
<text x="306.00" y="834.60" font-size="10" text-anchor="end">BX471</text>
<text x="333.80" y="796.20" font-size="14.5" text-anchor="middle" style="stroke-width:0.2px">−</text>
<text x="356.30" y="796.20" font-size="14.5" text-anchor="middle" style="stroke-width:0.2px">−</text>
<text x="377.50" y="795.30" font-size="8.6" text-anchor="middle" style="stroke-width:0.3px">+</text>
<text x="398.50" y="795.30" font-size="8.6" text-anchor="middle" style="stroke-width:0.3px">+</text>
<text x="419.10" y="795.30" font-size="8.6" text-anchor="middle" style="stroke-width:0.3px">+</text>
<text x="440.40" y="796.20" font-size="14.5" text-anchor="middle" style="stroke-width:0.2px">−</text>
<text x="461.00" y="796.20" font-size="14.5" text-anchor="middle" style="stroke-width:0.2px">−</text>
<text x="333.80" y="809.30" font-size="14.5" text-anchor="middle" style="stroke-width:0.2px">−</text>
<text x="356.30" y="809.30" font-size="14.5" text-anchor="middle" style="stroke-width:0.2px">−</text>
<text x="377.50" y="809.30" font-size="14.5" text-anchor="middle" style="stroke-width:0.2px">−</text>
<text x="398.50" y="809.30" font-size="14.5" text-anchor="middle" style="stroke-width:0.2px">−</text>
<text x="419.10" y="809.30" font-size="14.5" text-anchor="middle" style="stroke-width:0.2px">−</text>
<text x="440.40" y="807.90" font-size="8.6" text-anchor="middle" style="stroke-width:0.3px">+</text>
<text x="461.00" y="807.90" font-size="8.6" text-anchor="middle" style="stroke-width:0.3px">+</text>
<text x="333.80" y="823.00" font-size="14.5" text-anchor="middle" style="stroke-width:0.2px">−</text>
<text x="356.30" y="823.00" font-size="14.5" text-anchor="middle" style="stroke-width:0.2px">−</text>
<text x="377.50" y="823.00" font-size="14.5" text-anchor="middle" style="stroke-width:0.2px">−</text>
<text x="398.50" y="822.60" font-size="8.6" text-anchor="middle" style="stroke-width:0.3px">+</text>
<text x="419.10" y="823.00" font-size="14.5" text-anchor="middle" style="stroke-width:0.2px">−</text>
<text x="440.40" y="823.00" font-size="14.5" text-anchor="middle" style="stroke-width:0.2px">−</text>
<text x="461.00" y="823.00" font-size="14.5" text-anchor="middle" style="stroke-width:0.2px">−</text>
<text x="333.80" y="836.30" font-size="14.5" text-anchor="middle" style="stroke-width:0.2px">−</text>
<text x="356.30" y="836.30" font-size="14.5" text-anchor="middle" style="stroke-width:0.2px">−</text>
<text x="377.50" y="836.30" font-size="14.5" text-anchor="middle" style="stroke-width:0.2px">−</text>
<text x="398.50" y="836.30" font-size="14.5" text-anchor="middle" style="stroke-width:0.2px">−</text>
<text x="419.10" y="835.30" font-size="8.6" text-anchor="middle" style="stroke-width:0.3px">+</text>
<text x="440.40" y="836.30" font-size="14.5" text-anchor="middle" style="stroke-width:0.2px">−</text>
<text x="461.00" y="835.30" font-size="8.6" text-anchor="middle" style="stroke-width:0.3px">+</text>
</svg>
</body>
</html>
